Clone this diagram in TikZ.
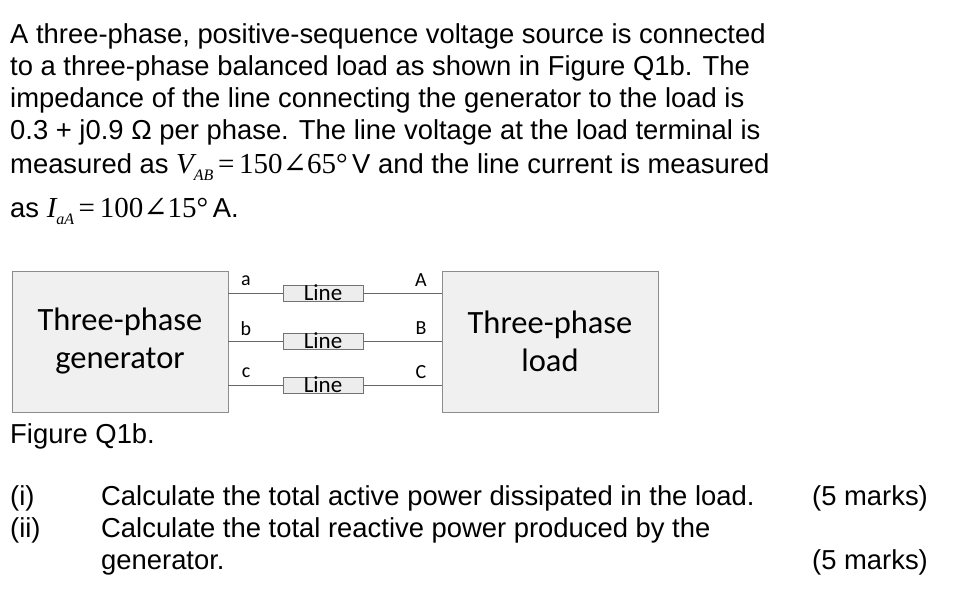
\documentclass[tikz,border=0pt]{standalone}
\usepackage{fontspec}
\setmainfont{Liberation Sans}
\newfontfamily\calfnt{Carlito}
\newfontfamily\tms{Liberation Serif}
\newfontfamily\dvs{DejaVu Serif}
\newcommand{\ang}{{\dvs\fontsize{29}{29}\selectfont ∠}}
\newcommand{\mth}{\tms\fontsize{29}{32}\selectfont}
\begin{document}
\begin{tikzpicture}[x=1pt,y=-1pt,
  txt/.style={anchor=base west,inner sep=0pt,font=\fontsize{27.4}{32}\selectfont},
  bigbox/.style={draw=black!45,fill=black!6,line width=0.8pt,minimum width=216pt,minimum height=141pt,align=center,font=\calfnt\fontsize{32.5}{38}\selectfont},
  linebox/.style={draw=black!55,fill=black!7,line width=0.7pt,minimum width=80pt,minimum height=13pt,inner sep=0pt,font=\calfnt\fontsize{23}{20}\selectfont},
  lbl/.style={font=\calfnt\fontsize{20}{20}\selectfont,inner sep=0pt},
  wire/.style={draw=black!60,line width=0.8pt}]
\useasboundingbox (0,0) rectangle (972,614);
\node[txt] (t1) at (10,43) {A three-phase, positive-sequence voltage source is connected};
\node[txt] (t2) at (10,75) {to a three-phase balanced load as shown in Figure Q1b. The};
\node[txt] (t3) at (10,107) {impedance of the line connecting the generator to the load is};
\node[txt] (t4) at (10,139) {0.3 + j0.9 Ω per phase. The line voltage at the load terminal is};
\node[txt] (t5) at (10,173) {measured as {\mth\itshape V}\raisebox{-7pt}{\tms\itshape\fontsize{16}{16}\selectfont AB}\,{\mth =\,150\ang65°}\,V and the line current is measured};
\node[txt] (t6) at (10,217) {as {\mth\itshape I}\raisebox{-7pt}{\tms\itshape\fontsize{16}{16}\selectfont aA}\,{\mth =\,100\ang15°}\,A.};
\node[bigbox] (gen) at (120,341.5) {Three-phase\\generator};
\node[bigbox] (load) at (550,341.5) {Three-phase\\load};
\foreach \n/\y/\s/\S in {1/293/a/A,2/341/b/B,3/385/c/C}{
  \node[linebox] (l\n) at (323,\y) {\raisebox{-2pt}{Line}};
  \draw[wire] (gen.east |- l\n.west) -- (l\n.west);
  \draw[wire] (l\n.east) -- (load.west |- l\n.east);
  \node[lbl] (s\n) at (246,\y-12) {\s};
  \node[lbl] (S\n) at (421,\y-13) {\S};
}
\node[txt] (fig) at (10,443) {Figure Q1b.};
\node[txt] (i) at (10,505) {(i)};
\node[txt] (ii) at (10,537) {(ii)};
\node[txt] (q1) at (101,505) {Calculate the total active power dissipated in the load.};
\node[txt] (q2) at (101,537) {Calculate the total reactive power produced by the};
\node[txt] (q3) at (101,569) {generator.};
\node[txt] (m1) at (812,505) {(5 marks)};
\node[txt] (m2) at (812,569) {(5 marks)};
\end{tikzpicture}
\end{document}
